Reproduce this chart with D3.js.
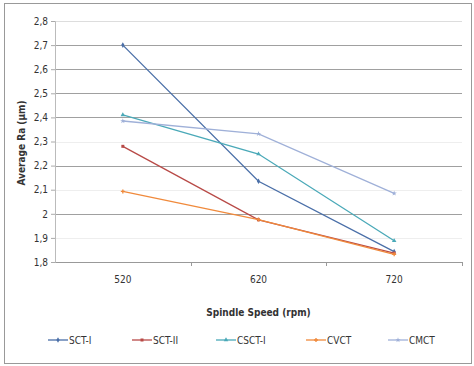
<!DOCTYPE html>
<html>
<head>
<meta charset="utf-8">
<script src="https://cdn.jsdelivr.net/npm/d3@7"></script>
<style>
  body { margin: 0; background: #fff; }
  svg text { font-family: "Liberation Sans Narrow", "DejaVu Sans Condensed", "Liberation Sans", sans-serif; fill: #333; }
</style>
</head>
<body>
<svg id="chart"></svg>
<script>
const speeds = ["520", "620", "720"];
const seriesNames = ["SCT-I", "SCT-II", "CSCT-I", "CVCT", "CMCT"];
const sct1 = [2.70, 2.135, 1.843];
const sct2 = [2.28, 1.975, 1.837];
const csct1 = [2.41, 2.248, 1.888];
const cvct = [2.093, 1.976, 1.832];
const cmct = [2.385, 2.332, 2.085];
const yTicks = [1.8, 1.9, 2.0, 2.1, 2.2, 2.3, 2.4, 2.5, 2.6, 2.7, 2.8];

const colors = ["#4a6fa8", "#b84a47", "#4aa9b8", "#f08a3c", "#9fb0d8"];
const symbols = [d3.symbolDiamond, d3.symbolSquare, d3.symbolTriangle, d3.symbolCross, d3.symbolStar];
const series = [sct1, sct2, csct1, cvct, cmct].map((values, i) => ({
  name: seriesNames[i], values, color: colors[i], symbol: symbols[i]
}));

const width = 474, height = 366;
const margin = { top: 21, right: 12, bottom: 104, left: 55 };
const w = width - margin.left - margin.right;
const h = height - margin.top - margin.bottom;

const svg = d3.select('#chart')
    .attr('width', width)
    .attr('height', height);

// outer frame
svg.append('rect')
  .attr('x', 4.5).attr('y', 3.5)
  .attr('width', 467).attr('height', 360)
  .attr('fill', 'none')
  .attr('stroke', '#999')

const chart = svg.append('g')
    .attr('transform', `translate(${margin.left}, ${margin.top})`)

const x = d3.scaleBand()
  .domain(speeds)
  .range([0, w])

const y = d3.scaleLinear()
  .domain([1.8, 2.8])
  .range([h, 0])

const fmt = d => d3.format('.1f')(d).replace('.', ',').replace(',0', '')

// gridlines (the odd ones are barely visible in the source image)
const faint = [1.9, 2.1, 2.3];
chart.append('g')
  .selectAll('line')
  .data(yTicks.slice(1))
  .join('line')
    .attr('x1', 0).attr('x2', w)
    .attr('y1', d => Math.round(y(d)) + 0.5)
    .attr('y2', d => Math.round(y(d)) + 0.5)
    .attr('stroke', d => d === 2.8 ? '#ddd' : faint.includes(d) ? '#eee' : '#a0a0a0')

// y axis
const yAxis = chart.append('g')
  .call(d3.axisLeft(y).tickValues(yTicks).tickSize(4).tickPadding(3).tickFormat(fmt))
yAxis.select('.domain').attr('stroke', '#bbb')
yAxis.selectAll('.tick line').attr('stroke', '#aaa')
yAxis.selectAll('text').style('font-size', '10px').attr('fill', '#333')

// x axis
const xAxis = chart.append('g')
  .attr('transform', `translate(0, ${h})`)
  .call(d3.axisBottom(x).tickSize(0).tickPadding(14))
xAxis.select('.domain').attr('stroke', '#999')
xAxis.selectAll('text').style('font-size', '10px').attr('fill', '#333')
// tick marks between categories
chart.append('g')
  .selectAll('line')
  .data(speeds)
  .join('line')
    .attr('x1', d => Math.round(x(d) + x.bandwidth()) + 0.5)
    .attr('x2', d => Math.round(x(d) + x.bandwidth()) + 0.5)
    .attr('y1', h).attr('y2', h + 4)
    .attr('stroke', '#999')

// axis titles
chart.append('text')
  .attr('x', w / 2)
  .attr('y', h + 54)
  .style('text-anchor', 'middle')
  .style('font-size', '10px')
  .style('font-weight', 'bold')
  .text('Spindle Speed (rpm)')

chart.append('text')
  .attr('transform', 'rotate(-90)')
  .attr('x', -(122))
  .attr('y', -30)
  .style('text-anchor', 'middle')
  .style('font-size', '10px')
  .style('font-weight', 'bold')
  .text('Average Ra (µm)')

// lines
const line = d3.line()
  .x((d, i) => x(speeds[i]) + x.bandwidth() / 2)
  .y(d => y(d))

const g = chart.selectAll('.series')
  .data(series)
  .join('g')
    .attr('class', 'series')

g.append('path')
  .attr('d', d => line(d.values))
  .attr('fill', 'none')
  .attr('stroke', d => d.color)
  .attr('stroke-width', 1.3)

g.selectAll('path.pt')
  .data(d => d.values.map((v, i) => ({ v, i, s: d })))
  .join('path')
    .attr('class', 'pt')
    .attr('transform', d => `translate(${x(speeds[d.i]) + x.bandwidth() / 2}, ${y(d.v)})`)
    .attr('d', d => d3.symbol().type(d.s.symbol).size(9)())
    .attr('fill', d => d.s.color)

// legend
const legendX = [48, 132, 216, 306, 388];
const legend = svg.append('g')
  .selectAll('g')
  .data(series)
  .join('g')
    .attr('transform', (d, i) => `translate(${legendX[i]}, 340)`)

legend.append('line')
  .attr('x1', 0).attr('x2', 20)
  .attr('stroke', d => d.color)
  .attr('stroke-width', 1.3)

legend.append('path')
  .attr('transform', 'translate(10, 0)')
  .attr('d', d => d3.symbol().type(d.symbol).size(9)())
  .attr('fill', d => d.color)

legend.append('text')
  .attr('x', 21)
  .attr('dy', '0.35em')
  .style('font-size', '10px')
  .text(d => d.name)
</script>
</body>
</html>
